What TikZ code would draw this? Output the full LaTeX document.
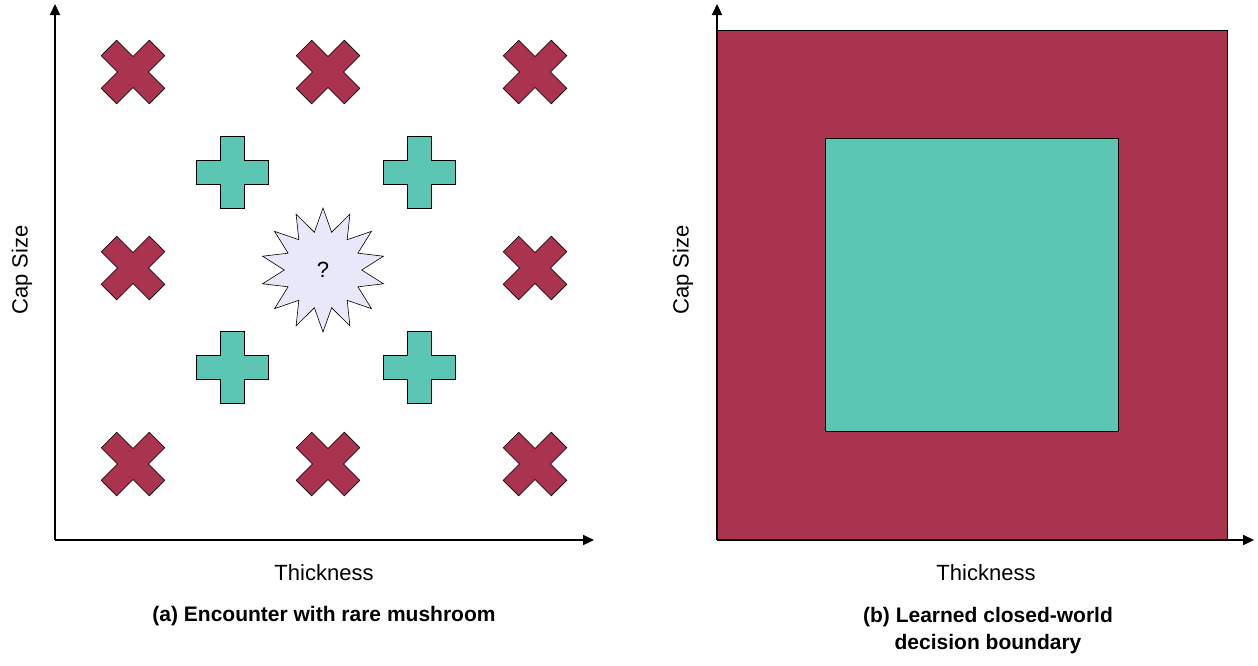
\documentclass[tikz,border=0pt]{standalone}
\usepackage{fontspec}
\setmainfont{Liberation Sans}
\usetikzlibrary{shapes.geometric,arrows.meta}
\definecolor{cred}{HTML}{AA3350}
\definecolor{cteal}{HTML}{5BC6B3}
\definecolor{cstar}{HTML}{E8E8FA}
\begin{document}
\begin{tikzpicture}[x=1pt,y=-1pt,
  ax/.style={line width=2.2pt,-{Triangle[length=11pt,width=10pt]}},
  lab/.style={font=\fontsize{22}{26}\selectfont},
  capt/.style={font=\bfseries\fontsize{21}{27}\selectfont,align=center},
  xmark/.style={fill=cred,draw=black,line width=0.6pt},
  pmark/.style={fill=cteal,draw=black,line width=0.8pt}]
\useasboundingbox (0,0) rectangle (1258,665);
\newcommand{\plusat}[4]{% x,y,rot,style
  \draw[#4,shift={(#1,#2)},rotate=#3] (-12,-36)--(12,-36)--(12,-12)--(36,-12)--(36,12)--(12,12)--(12,36)--(-12,36)--(-12,12)--(-36,12)--(-36,-12)--(-12,-12)--cycle;}
\newcommand{\xat}[2]{%
  \draw[xmark,shift={(#1,#2)},rotate=45] (-11,-34)--(11,-34)--(11,-11)--(34,-11)--(34,11)--(11,11)--(11,34)--(-11,34)--(-11,11)--(-34,11)--(-34,-11)--(-11,-11)--cycle;}
% panel a
\coordinate (o1) at (55,540);
\coordinate (y1) at (55,4);
\coordinate (x1) at (594,540);
\draw[ax] (o1) -- (y1);
\draw[ax] (o1) -- (x1);
\foreach \x in {133,328,535}{\xat{\x}{72}\xat{\x}{464}}
\xat{133}{268}\xat{535}{268}
\foreach \x/\y in {232/172,419/172,232/367,419/367}{\plusat{\x}{\y}{0}{pmark}}
\node[star,star points=14,star point ratio=1.6,minimum size=124pt,inner sep=0pt,fill=cstar,draw=black,line width=0.6pt] (q) at (323,270) {};
\node[lab] at (q) {?};
\node[lab,rotate=90] (cs1) at (22,270) {Cap Size};
\node[lab] (th1) at (324,573) {Thickness};
\node[capt] (ca) at (324,616) {(a) Encounter with rare mushroom};
% panel b
\coordinate (o2) at (717,540);
\coordinate (y2) at (717,4);
\coordinate (x2) at (1254,540);
\fill[cred] (717,30) rectangle (1227,540);
\draw[black,line width=0.8pt] (717,30) -- (1227,30) -- (1227,540);
\draw[fill=cteal,draw=black,line width=0.8pt] (825,138) rectangle (1118,431);
\draw[ax] (o2) -- (y2);
\draw[ax] (o2) -- (x2);
\node[lab,rotate=90] (cs2) at (683,270) {Cap Size};
\node[lab] (th2) at (986,573) {Thickness};
\node[capt] (cb) at (988,631) {(b) Learned closed-world\\decision boundary};
\end{tikzpicture}
\end{document}
